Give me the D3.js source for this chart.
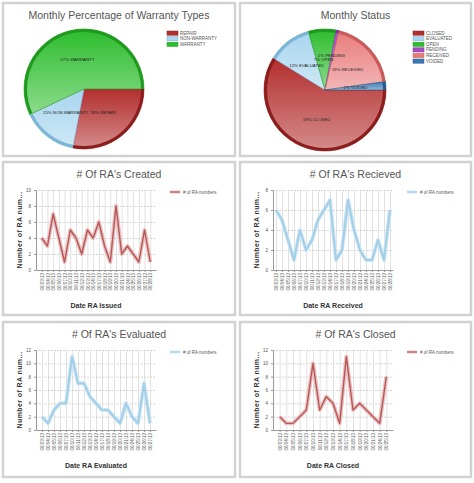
<!DOCTYPE html>
<html>
<head>
<meta charset="utf-8">
<script src="https://cdn.jsdelivr.net/npm/d3@7"></script>
<style>
  body { margin: 0; background: #fff; font-family: Arial, "Liberation Sans", sans-serif; }
  .grid line { stroke: #e2e2e2; }
  .hgrid line { stroke: #d6d6d6; stroke-dasharray: 2,1; }
  .axis path, .axis line { stroke: #9a9a9a; }
</style>
</head>
<body>
<script>

// pie data
var warrantyTypes = ["REPAIR", "NON-WARRANTY", "WARRANTY"];
var warrantyCounts = [28, 15, 57];

var statusTypes = ["CLOSED", "EVALUATED", "OPEN", "PENDING", "RECEIVED", "VOIDED"];
var statusCounts = [80, 16, 10, 1, 26, 3];

// line data
var createdDates = ["06/03/13","06/04/13","06/05/13","06/06/13","06/07/13","06/10/13","06/11/13","06/12/13","06/13/13","06/14/13",
                    "06/17/13","06/18/13","06/19/13","06/20/13","06/21/13","06/24/13","06/25/13","06/26/13","06/27/13","06/28/13"];
var createdCounts = [4, 3, 7, 4, 1, 5, 4, 2, 5, 4, 6, 3, 1, 8, 2, 3, 2, 1, 5, 1];

var receivedDates = ["06/03/13","06/04/13","06/05/13","06/06/13","06/07/13","06/10/13","06/11/13","06/12/13","06/13/13","06/14/13",
                     "06/17/13","06/18/13","06/19/13","06/20/13","06/21/13","06/24/13","06/25/13","06/26/13","06/27/13","06/28/13"];
var receivedCounts = [6, 5, 3, 1, 4, 2, 3, 5, 6, 7, 1, 2, 7, 4, 2, 1, 1, 3, 1, 6];

var evaluatedDates = ["06/03/13","06/04/13","06/05/13","06/06/13","06/07/13","06/10/13","06/11/13","06/12/13","06/13/13","06/14/13",
                      "06/17/13","06/18/13","06/19/13","06/20/13","06/21/13","06/24/13","06/25/13","06/26/13","06/27/13"];
var evaluatedCounts = [2, 1, 3, 4, 4, 11, 7, 7, 5, 4, 3, 3, 2, 1, 4, 2, 1, 7, 1];

var closedDates = ["06/03/13","06/04/13","06/05/13","06/06/13","06/07/13","06/10/13","06/11/13","06/12/13","06/13/13",
                   "06/14/13","06/17/13","06/18/13","06/19/13","06/20/13","06/21/13","06/24/13","06/25/13"];
var closedCounts = [2, 1, 1, 2, 3, 10, 3, 5, 4, 1, 11, 3, 4, 3, 2, 1, 8];


var width = 474, height = 483;

var svg = d3.select("body").append("svg")
    .attr("width", width)
    .attr("height", height);

var defs = svg.append("defs");

function panel(x, y, w, h) {
  var g = svg.append("g")
      .attr("transform", "translate(" + x + "," + y + ")");
  g.append("rect")
      .attr("x", 0).attr("y", 0)
      .attr("width", w).attr("height", h)
      .style("fill", "#fff")
      .style("stroke", "#d2d2d2")
      .style("stroke-width", 2.5);
  return g;
}

function title(g, w, text) {
  g.append("text")
      .attr("x", w / 2)
      .attr("y", 16)
      .style("text-anchor", "middle")
      .style("font-size", "10.5px")
      .style("fill", "#555")
      .text(text);
}

// pie chart with shaded slices
function drawPie(g, id, names, values, colors, rims, cx, cy, r, legendX) {
  var pie = d3.pie().sort(null)
      .startAngle(Math.PI / 2)
      .endAngle(Math.PI / 2 + 2 * Math.PI);
  var arc = d3.arc().innerRadius(0).outerRadius(r);
  var rim = d3.arc().innerRadius(r - 3).outerRadius(r);
  var total = d3.sum(values);

  colors.forEach(function(c, i) {
    var grad = defs.append("linearGradient")
        .attr("id", id + "g" + i)
        .attr("x1", 0).attr("y1", 0).attr("x2", 0).attr("y2", 1);
    grad.append("stop").attr("offset", "0%").attr("stop-color", c);
    grad.append("stop").attr("offset", "100%").attr("stop-color", d3.interpolateRgb(c, "#fff")(0.45));
  });

  var arcs = pie(values);
  var pg = g.append("g").attr("transform", "translate(" + cx + "," + cy + ")");

  pg.selectAll(".slice")
      .data(arcs)
    .enter().append("path")
      .attr("class", "slice")
      .attr("d", arc)
      .style("fill", function(d, i) { return "url(#" + id + "g" + i + ")"; })
      .style("stroke", function(d, i) { return rims[i]; })
      .style("stroke-width", 0.6);

  pg.selectAll(".rim")
      .data(arcs)
    .enter().append("path")
      .attr("class", "rim")
      .attr("d", rim)
      .style("fill", function(d, i) { return rims[i]; });

  pg.selectAll(".lbl")
      .data(arcs)
    .enter().append("text")
      .attr("class", "lbl")
      .attr("transform", function(d) {
        var c = arc.centroid(d);
        // tiny slices: nudge the label up so it doesn't sit on its neighbour
        if (d.value / total < 0.02) c[1] -= 5;
        return "translate(" + c + ")";
      })
      .attr("dy", ".35em")
      .style("text-anchor", "middle")
      .style("font-size", "4.3px")
      .style("fill", "#222")
      .text(function(d, i) { return Math.round(d.value / total * 100) + "% " + names[i]; });

  // legend
  var legend = g.selectAll(".legend")
      .data(names)
    .enter().append("g")
      .attr("class", "legend")
      .attr("transform", function(d, i) { return "translate(" + legendX + "," + (28 + i * 5.6) + ")"; });

  legend.append("rect")
      .attr("width", 11)
      .attr("height", 4.2)
      .style("fill", function(d, i) { return colors[i]; })
      .style("stroke", function(d, i) { return rims[i]; })
      .style("stroke-width", 0.5);

  legend.append("text")
      .attr("x", 13)
      .attr("y", 2.1)
      .attr("dy", ".35em")
      .style("font-size", "4.5px")
      .style("fill", "#555")
      .text(function(d) { return d; });
}

// line chart
function drawLine(g, opts) {
  var left = 33, right = 153, top = 28, bottom = 108;

  var x = d3.scalePoint()
      .domain(opts.dates)
      .range([left, right])
      .padding(opts.padding);
  var y = d3.scaleLinear()
      .domain([0, opts.yMax])
      .range([bottom, top]);

  var ticks = d3.range(0, opts.yMax + 1, 2);

  g.append("g")
      .attr("class", "grid")
      .attr("transform", "translate(0," + bottom + ")")
      .call(d3.axisBottom(x).tickSize(-(bottom - top)).tickFormat(""))
      .select(".domain").remove();

  g.append("g")
      .attr("class", "hgrid")
      .attr("transform", "translate(" + left + ",0)")
      .call(d3.axisLeft(y).tickValues(ticks.slice(1)).tickSize(-(right - left)).tickFormat(""))
      .select(".domain").remove();

  g.append("g")
      .attr("class", "axis")
      .attr("transform", "translate(0," + bottom + ")")
      .call(d3.axisBottom(x).tickSize(2).tickSizeOuter(0))
    .selectAll("text")
      .attr("transform", "rotate(-90)")
      .attr("x", -3)
      .attr("y", 0)
      .attr("dy", ".35em")
      .style("text-anchor", "end")
      .style("font-size", "4.5px")
      .style("fill", "#555");

  g.append("g")
      .attr("class", "axis")
      .attr("transform", "translate(" + left + ",0)")
      .call(d3.axisLeft(y).tickValues(ticks).tickSize(2).tickSizeOuter(0))
    .selectAll("text")
      .style("font-size", "4.5px")
      .style("fill", "#555");

  var line = d3.line()
      .x(function(d, i) { return x(opts.dates[i]); })
      .y(function(d) { return y(d); });

  g.append("path")
      .datum(opts.counts)
      .attr("d", line)
      .style("fill", "none")
      .style("stroke", opts.glow)
      .style("stroke-width", 4)
      .style("stroke-linejoin", "round");

  g.append("path")
      .datum(opts.counts)
      .attr("d", line)
      .style("fill", "none")
      .style("stroke", opts.color)
      .style("stroke-width", opts.lineWidth)
      .style("stroke-linejoin", "round");

  // axis titles
  g.append("text")
      .attr("transform", "translate(19," + ((top + bottom) / 2) + ") rotate(-90)")
      .style("text-anchor", "middle")
      .style("font-size", "7px")
      .style("font-weight", "bold")
      .style("letter-spacing", "0.4px")
      .style("fill", "#333")
      .text("Number  of  RA num...");

  g.append("text")
      .attr("x", (left + right) / 2)
      .attr("y", opts.labelY)
      .style("text-anchor", "middle")
      .style("font-size", "7px")
      .style("font-weight", "bold")
      .style("fill", "#333")
      .text(opts.xLabel);

  // legend
  g.append("line")
      .attr("x1", 167).attr("x2", 177)
      .attr("y1", 30).attr("y2", 30)
      .style("stroke", opts.glow)
      .style("stroke-width", 3);
  g.append("line")
      .attr("x1", 167).attr("x2", 177)
      .attr("y1", 30).attr("y2", 30)
      .style("stroke", opts.color)
      .style("stroke-width", 1.2);
  g.append("text")
      .attr("x", 180)
      .attr("y", 30)
      .attr("dy", ".35em")
      .style("font-size", "4.5px")
      .style("fill", "#555")
      .text("# of RA numbers");
}

// top row: pies
var p1 = panel(3, 3, 232, 153);
title(p1, 232, "Monthly Percentage of Warranty Types");
drawPie(p1, "w", warrantyTypes, warrantyCounts,
    ["#b32e2e", "#a8d5ef", "#2dbd2d"],
    ["#8c1d1d", "#7db5d6", "#1f9a1f"],
    81, 86, 60, 164);

var p2 = panel(240, 3, 231, 153);
title(p2, 231, "Monthly Status");
drawPie(p2, "s", statusTypes, statusCounts,
    ["#b32e2e", "#a8d5ef", "#2dbd2d", "#a64dc4", "#e97b7b", "#3a78b5"],
    ["#8c1d1d", "#7db5d6", "#1f9a1f", "#83309f", "#c85a5a", "#285a8c"],
    85, 87, 61, 173);

// middle row
var p3 = panel(3, 162, 232, 153);
title(p3, 232, "# Of RA's Created");
drawLine(p3, { dates: createdDates, counts: createdCounts, yMax: 10, padding: 1,
    xLabel: "Date RA Issued", labelY: 146, color: "#b55858", glow: "#ecc0c0", lineWidth: 1.4 });

var p4 = panel(240, 162, 231, 153);
title(p4, 231, "# Of RA's Recieved");
drawLine(p4, { dates: receivedDates, counts: receivedCounts, yMax: 8, padding: 0.5,
    xLabel: "Date RA Received", labelY: 146, color: "#a3cfe8", glow: "#d4e9f6", lineWidth: 2.2 });

// bottom row
var p5 = panel(3, 322, 232, 155);
title(p5, 232, "# Of RA's Evaluated");
drawLine(p5, { dates: evaluatedDates, counts: evaluatedCounts, yMax: 12, padding: 1,
    xLabel: "Date RA Evaluated", labelY: 146, color: "#a3cfe8", glow: "#d4e9f6", lineWidth: 2.2 });

var p6 = panel(240, 322, 231, 155);
title(p6, 231, "# Of RA's Closed");
drawLine(p6, { dates: closedDates, counts: closedCounts, yMax: 12, padding: 1,
    xLabel: "Date RA Closed", labelY: 146, color: "#b55858", glow: "#ecc0c0", lineWidth: 1.4 });

</script>
</body>
</html>
